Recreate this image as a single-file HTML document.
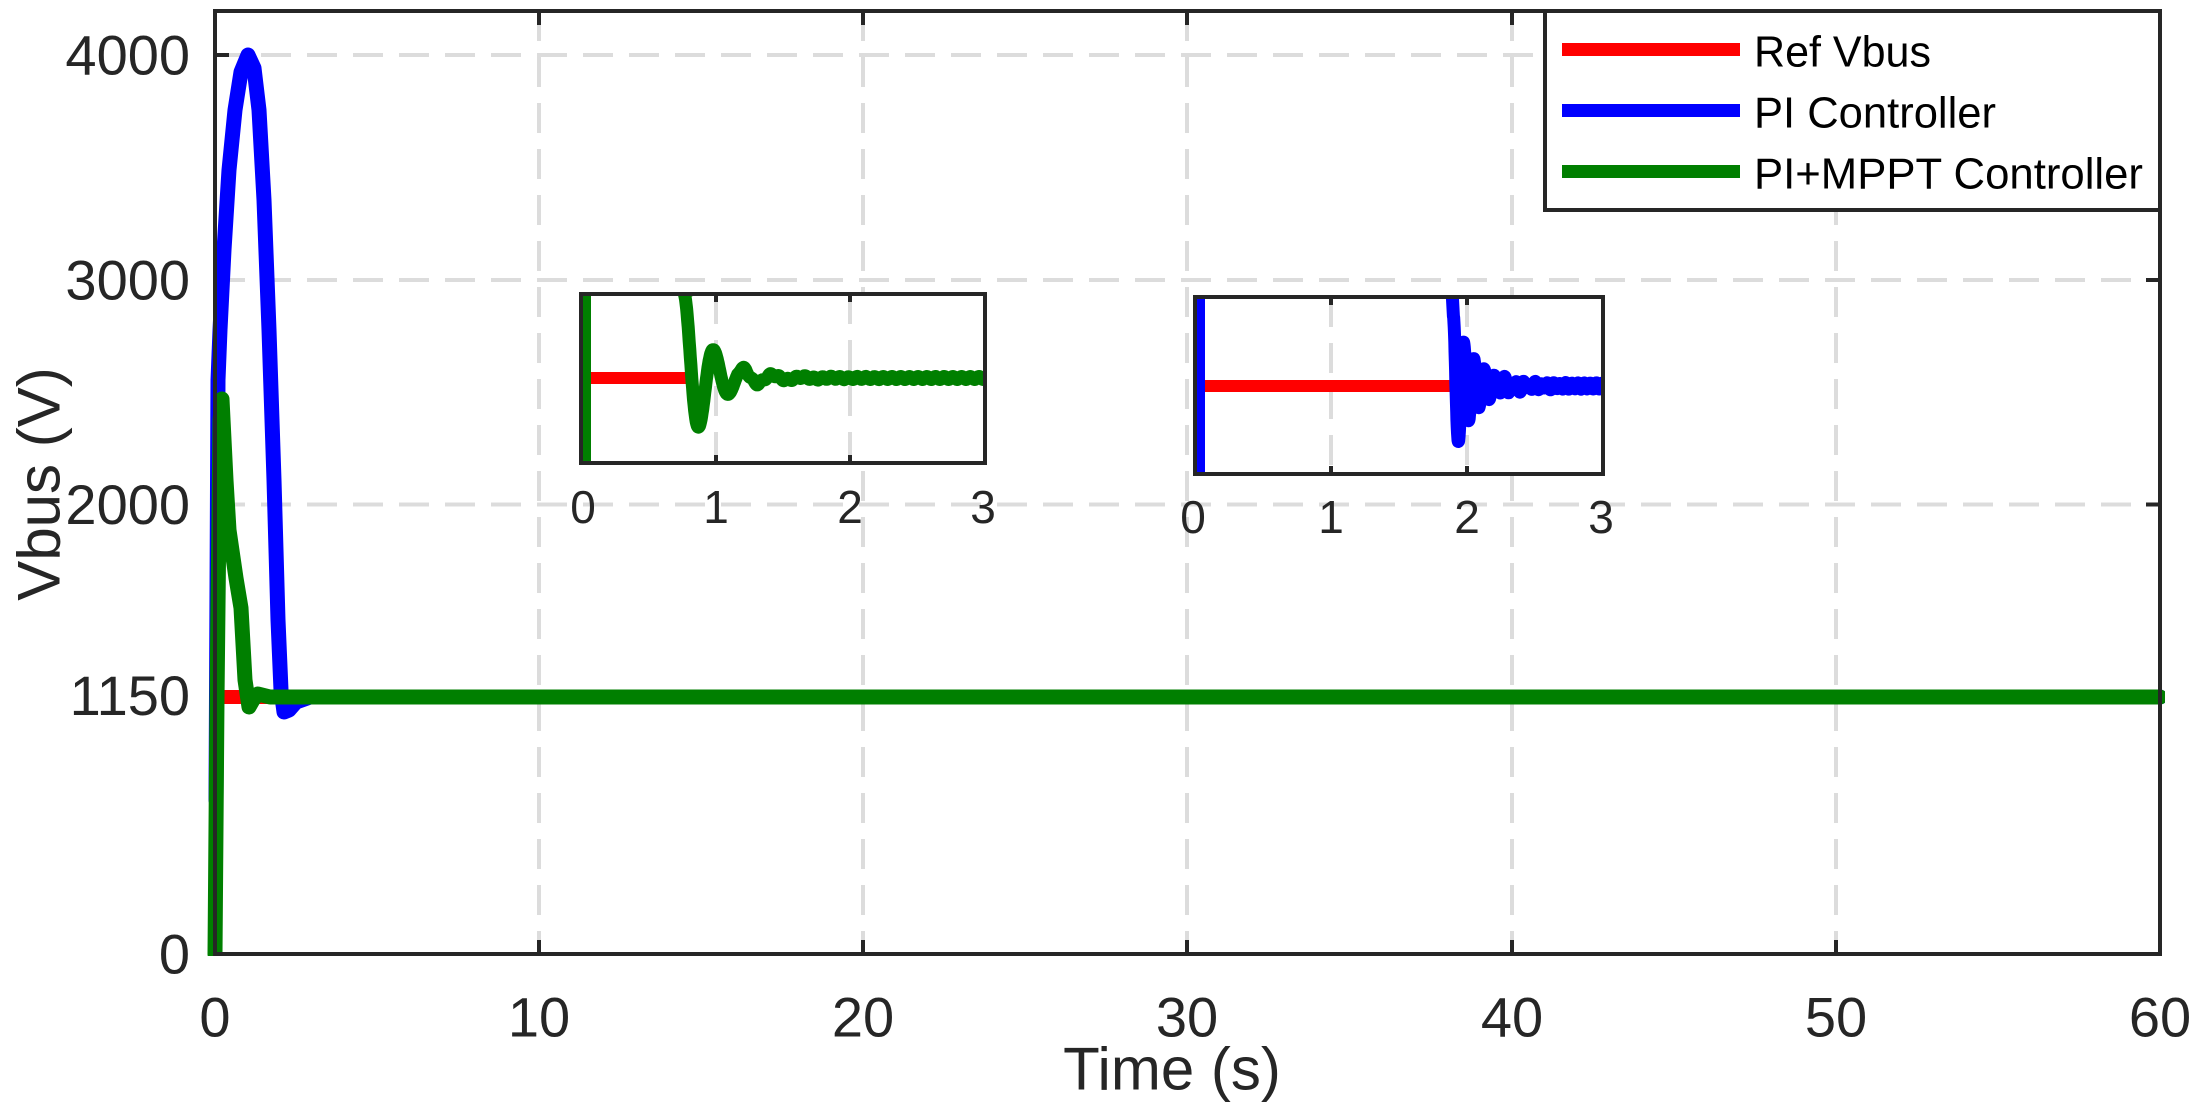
<!DOCTYPE html>
<html><head><meta charset="utf-8"><style>
html,body{margin:0;padding:0;background:#fff;}
svg{display:block;font-family:"Liberation Sans",Arial,sans-serif;}
</style></head><body>
<svg id="s" width="2192" height="1108" viewBox="0 0 2192 1108" xmlns="http://www.w3.org/2000/svg">
<defs>
<clipPath id="c1"><rect x="581" y="294" width="404" height="169"/></clipPath>
<clipPath id="c2"><rect x="1195" y="297" width="408" height="177"/></clipPath>
<clipPath id="cm"><rect x="205" y="11" width="1960" height="945"/></clipPath>
</defs>
<rect width="2192" height="1108" fill="#fff"/>
<g stroke="#dcdcdc" stroke-width="4" stroke-dasharray="30,16" fill="none">
<path d="M539 11V954M863 11V954M1187 11V954M1512 11V954M1836 11V954"/>
<path d="M215 55H2160M215 280H2160M215 504.5H2160M215 695.5H2160"/>
</g>
<g stroke="#262626" stroke-width="4">
<path d="M539 954v-14M863 954v-14M1187 954v-14M1512 954v-14M1836 954v-14"/>
<path d="M539 11v14M863 11v14M1187 11v14M1512 11v14M1836 11v14"/>
<path d="M215 55h14M215 280h14M215 504.5h14M215 695.5h14"/>
<path d="M2160 55h-14M2160 280h-14M2160 504.5h-14M2160 695.5h-14"/>
</g>
<g clip-path="url(#cm)" fill="none" stroke-linejoin="round" stroke-linecap="round">
<path d="M222 697H2160" stroke="#ff0000" stroke-width="14"/>
<path d="M216 800L218 380L220 330L224 250L229 170L235 110L241 72L248 55L254 68L259 110L264 200L269 330L274 480L278 620L281 690L284 712L289 710L296 702L310 697L2160 697" stroke="#0000ff" stroke-width="15"/>
<path d="M215 954L217 700L220 420L222 399L226 480L229 530L236 578L241 608L245 680L249 707L253 700L258 694L270 697L2160 697" stroke="#007f00" stroke-width="15"/>
</g>
<rect x="215" y="11" width="1945" height="943" fill="none" stroke="#262626" stroke-width="4"/>
<g font-size="56" fill="#262626" text-anchor="end" dominant-baseline="central">
<text x="190" y="55">4000</text>
<text x="190" y="280">3000</text>
<text x="190" y="504.5">2000</text>
<text x="190" y="695.5">1150</text>
<text x="190" y="954">0</text>
</g>
<g font-size="56" fill="#262626" text-anchor="middle" dominant-baseline="central">
<text x="215" y="1017">0</text>
<text x="539" y="1017">10</text>
<text x="863" y="1017">20</text>
<text x="1187" y="1017">30</text>
<text x="1512" y="1017">40</text>
<text x="1836" y="1017">50</text>
<text x="2160" y="1017">60</text>
</g>
<text x="1172" y="1069" font-size="60" fill="#262626" text-anchor="middle" dominant-baseline="central">Time (s)</text>
<text transform="translate(39,484) rotate(-90)" font-size="60" fill="#262626" text-anchor="middle" dominant-baseline="central">Vbus (V)</text>

<rect x="581" y="294" width="404" height="169" fill="#fff"/>
<g stroke="#dcdcdc" stroke-width="4" stroke-dasharray="30,16"><path d="M716 294V463M850 294V463"/></g>
<g clip-path="url(#c1)" fill="none" stroke-linecap="round" stroke-linejoin="round">
<path d="M587 378H690" stroke="#ff0000" stroke-width="12"/>
<path d="M585 294V463" stroke="#007f00" stroke-width="12"/>
<path id="g1" d="" stroke="#007f00" stroke-width="13"/>
</g>
<rect x="581" y="294" width="404" height="169" fill="none" stroke="#262626" stroke-width="4"/>
<g stroke="#262626" stroke-width="4"><path d="M716 294v8M850 294v8M716 463v-8M850 463v-8"/></g>
<g font-size="46" fill="#262626" text-anchor="middle" dominant-baseline="central">
<text x="583" y="507">0</text><text x="716" y="507">1</text><text x="850" y="507">2</text><text x="983" y="507">3</text>
</g>

<rect x="1195" y="297" width="408" height="177" fill="#fff"/>
<g stroke="#dcdcdc" stroke-width="4" stroke-dasharray="30,16"><path d="M1331 297V474M1467 297V474"/></g>
<g clip-path="url(#c2)" fill="none" stroke-linecap="round" stroke-linejoin="round">
<path d="M1200 386H1458" stroke="#ff0000" stroke-width="12"/>
<path d="M1199 297V474" stroke="#0000ff" stroke-width="12"/>
<path id="b1" d="" stroke="#0000ff" stroke-width="13"/>
</g>
<rect x="1195" y="297" width="408" height="177" fill="none" stroke="#262626" stroke-width="4"/>
<g stroke="#262626" stroke-width="4"><path d="M1331 297v8M1467 297v8M1331 474v-8M1467 474v-8"/></g>
<g font-size="46" fill="#262626" text-anchor="middle" dominant-baseline="central">
<text x="1193" y="517">0</text><text x="1331" y="517">1</text><text x="1467" y="517">2</text><text x="1601" y="517">3</text>
</g>

<rect x="1545" y="11" width="615" height="199" fill="#fff" stroke="#262626" stroke-width="4"/>
<rect x="1562" y="43" width="178" height="13" fill="#ff0000"/>
<rect x="1562" y="104" width="178" height="13" fill="#0000ff"/>
<rect x="1562" y="165" width="178" height="13" fill="#007f00"/>
<g font-size="44" fill="#000" dominant-baseline="central">
<text x="1754" y="52" textLength="177" lengthAdjust="spacingAndGlyphs">Ref Vbus</text>
<text x="1754" y="113" textLength="242" lengthAdjust="spacingAndGlyphs">PI Controller</text>
<text x="1754" y="174" textLength="389" lengthAdjust="spacingAndGlyphs">PI+MPPT Controller</text>
</g>
</svg>
<script>
(function(){
  var d="M690 290";
  for(var t=0.77;t<=3.0;t+=0.004){
    var s=t-0.77;
    var dev=-84*Math.cos(2*Math.PI*s/0.22)*Math.exp(-s/0.2);
    var x=581+134.3*t, y=378+dev+((s>0.4)?(Math.sin(t*97)*1.5):0);
    d+=" L"+x.toFixed(1)+" "+y.toFixed(1);
  }
  document.getElementById("g1").setAttribute("d",d);
  var e="M1452 290";
  for(var t=1.9;t<=3.0;t+=0.002){
    var s=t-1.9;
    var dev=-70*Math.cos(2*Math.PI*s/0.075)*Math.exp(-s/0.16);
    var x=1195+136*t, y=386+dev+((s>0.3)?(Math.sin(t*140)*3):0);
    e+=" L"+x.toFixed(1)+" "+y.toFixed(1);
  }
  document.getElementById("b1").setAttribute("d",e);
})();
</script>
</body></html>
